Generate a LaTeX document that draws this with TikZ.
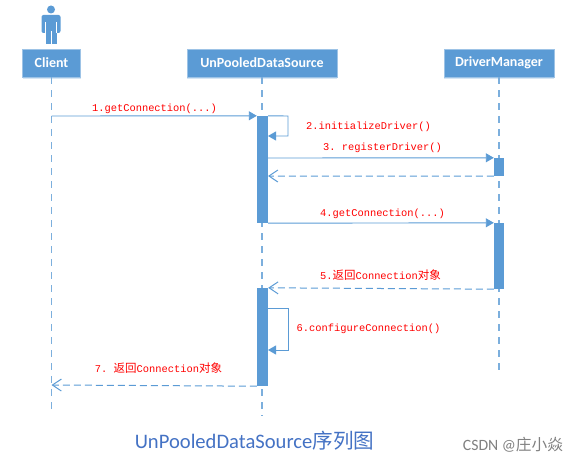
\documentclass[tikz,border=0pt]{standalone}
\usepackage{fontspec}
\usepackage{amsmath, amssymb}
\usepackage{tikz}
\usetikzlibrary{arrows.meta, shadows}
\setmainfont{Carlito}
\setmonofont{Liberation Mono}
\newfontfamily\cjk{Noto Sans CJK SC}
\newcommand{\zh}[1]{{\cjk\fontsize{11.5}{11}\selectfont #1}}
\definecolor{seqblue}{HTML}{5B9BD5}
\definecolor{seqlight}{HTML}{9DC3E6}
\definecolor{titleblue}{HTML}{4472C4}
\tikzset{
    lifebox/.style={draw=seqlight, line width=0.8pt, fill=seqblue, text=white, font=\bfseries\fontsize{14}{14}\selectfont, minimum height=28pt, inner sep=0pt, drop shadow={shadow xshift=0pt, shadow yshift=-2pt, fill=seqblue!25, opacity=1}},
    bar/.style={fill=seqblue, inner sep=0pt, minimum width=11pt},
    lifeline/.style={draw=seqblue!80, line width=1.4pt, dash pattern=on 7pt off 6pt},
    call/.style={draw=seqblue, line width=0.9pt, -{Triangle[length=8pt,width=9pt]}},
    reply/.style={draw=seqblue, line width=1pt, dash pattern=on 7pt off 4pt, -{Straight Barb[length=9pt,width=12pt]}},
    msg/.style={text=red, font=\ttfamily\fontsize{10.4}{11}\selectfont, inner sep=0pt}
}
\begin{document}
\begin{tikzpicture}[x=1pt, y=-1pt]
    \useasboundingbox (0,0) rectangle (578,462);

    % Client figure
    \fill[seqblue] (51,9.5) circle (4);
    \fill[seqblue, rounded corners=2pt] (41.5,33) -- (41.5,15) -- (60.5,15) -- (60.5,33) -- cycle;
    \fill[seqblue] (45.5,25) rectangle (56.5,44.5);
    \draw[white, line width=0.7pt] (45.5,22) -- (45.5,33) (56.5,22) -- (56.5,33) (51,31) -- (51,44.5);

    % Heads of the lifelines
    \node[lifebox, minimum width=58pt] (client) at (51.5,63) {Client};
    \node[lifebox, minimum width=150pt] (pooled) at (262,63) {UnPooledDataSource};
    \node[lifebox, minimum width=110pt] (driver) at (499,63) {DriverManager};

    % Ends of the lifelines
    \coordinate (clientend) at (51.5,415);
    \coordinate (pooledend) at (262,416);
    \coordinate (driverend) at (499,374);
    \draw[lifeline] (client.south) -- (clientend);
    \draw[lifeline] (pooled.south) -- (pooledend);
    \draw[lifeline] (driver.south) -- (driverend);

    % Activation bars
    \node[bar, minimum height=107pt] (bar1) at (262.5,169.5) {};
    \node[bar, minimum height=98pt] (bar2) at (262.5,337) {};
    \node[bar, minimum width=10pt, minimum height=18pt] (bar3) at (499,167) {};
    \node[bar, minimum width=10pt, minimum height=66pt] (bar4) at (499,256) {};

    % Points on the lifelines and the self calls
    \coordinate (start1) at (51.5,116);
    \coordinate (end7) at (51.5,385);
    \coordinate (start3) at (268,158);
    \coordinate (end3) at (268,176);
    \coordinate (loop2a) at (288,116);
    \coordinate (loop2b) at (288,136);
    \coordinate (back2) at (268,136);
    \coordinate (from6) at (268,308);
    \coordinate (loop6a) at (288,308);
    \coordinate (loop6b) at (288,350);
    \coordinate (back6) at (268,350);

    % Messages
    \draw[call] (start1) -- (bar1.north west);
    \draw[call] (bar1.north east) -- (loop2a) -- (loop2b) -- (back2);
    \draw[call] (start3) -- (bar3.north west);
    \draw[reply] (bar3.south west) -- (end3);
    \draw[call] (bar1.south east) -- (bar4.north west);
    \draw[reply] (bar4.south west) -- (bar2.north east);
    \draw[call] (from6) -- (loop6a) -- (loop6b) -- (back6);
    \draw[reply] (bar2.south west) -- (end7);

    % Labels
    \node[msg] (m1) at (154.5,109) {1.getConnection(...)};
    \node[msg] (m2) at (368.5,127) {2.initializeDriver()};
    \node[msg] (m3) at (382.5,148) {3. registerDriver()};
    \node[msg] (m4) at (382.5,214) {4.getConnection(...)};
    \node[msg] (m5) at (380.5,275) {5.\zh{返回}Connection\zh{对象}};
    \node[msg] (m6) at (368.5,329) {6.configureConnection()};
    \node[msg] (m7) at (158.5,368.5) {7. \zh{返回}Connection\zh{对象}};

    % Title and mark
    \node[text=titleblue, font=\fontsize{20.6}{20}\selectfont, inner sep=0pt] (title) at (254.5,441) {UnPooledDataSource{\cjk 序列图}};
    \node[text=black!50, font=\fontsize{15.7}{16}\selectfont, inner sep=0pt] (mark) at (513,445) {CSDN @{\cjk 庄小焱}};
\end{tikzpicture}
\end{document}
